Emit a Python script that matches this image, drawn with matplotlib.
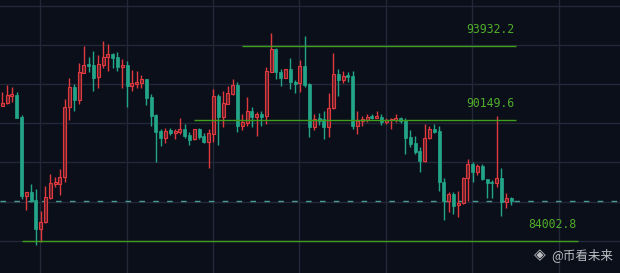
import numpy as np
import matplotlib
matplotlib.use("Agg")
import matplotlib.pyplot as plt

# OHLC (one entry per candle)
opens = [90894, 91017, 91389, 91440, 90303, 86304, 86478, 86085, 84606, 84948,
         86202, 86901, 86901, 87273, 90813, 91863, 91185, 92577, 93021, 92970,
         92343, 92970, 93363, 93531, 93363, 92883, 92970, 91914, 91986, 92067,
         92256, 91353, 90420, 89604, 89262, 89670, 89517, 89568, 89706, 89400,
         89181, 89691, 89349, 89058, 89466, 91389, 90333, 90996, 91491, 91935,
         89874, 90027, 90624, 90333, 90471, 90369, 92628, 93786, 92628, 92322,
         92766, 92118, 92037, 92919, 92001, 89823, 90282, 90201, 89823, 90762,
         92496, 92205, 92460, 92424, 89874, 90129, 90165, 90384, 90282, 90318,
         90048, 90150, 90150, 90252, 90165, 89298, 88977, 88584, 88074, 89232,
         89706, 89604, 87018, 86034, 86391, 85815, 85917, 87192, 87906, 87528,
         87819, 87156, 87018, 86937, 87192, 85968, 86202]
highs = [91593, 91950, 91833, 91578, 90420, 86508, 86886, 86646, 85524, 86814,
         87396, 87243, 87651, 91236, 92292, 91986, 93087, 93939, 93363, 93684,
         93480, 94194, 94041, 93582, 93618, 93276, 93174, 92715, 92679, 92460,
         92270, 91476, 90486, 89706, 89772, 89772, 89706, 90252, 89946, 89568,
         89700, 89742, 89487, 89691, 91746, 91491, 91644, 91899, 92271, 92118,
         90471, 91353, 90828, 90558, 90624, 92883, 94587, 93822, 92766, 92760,
         93312, 92205, 93240, 94464, 92052, 90471, 90507, 90624, 91527, 93567,
         92751, 92679, 92613, 92664, 90639, 90384, 90486, 90456, 90624, 90456,
         90252, 90252, 90456, 90333, 90252, 89640, 89364, 88773, 89976, 89874,
         89961, 89874, 87192, 86478, 86478, 86559, 87273, 88161, 88038, 87906,
         87936, 87160, 87105, 90384, 87732, 86427, 86253]
lows = [90870, 90981, 91098, 90252, 86136, 85575, 85998, 83790, 83958, 84930,
        86136, 86763, 86340, 87018, 90165, 90639, 90966, 92560, 92628, 91659,
        91782, 92802, 92664, 92802, 92664, 91782, 90843, 91644, 91782, 91782,
        90930, 89874, 88008, 88854, 89007, 89400, 89181, 89436, 89232, 88890,
        89170, 89181, 89007, 87702, 89058, 88890, 89823, 90980, 91440, 89568,
        89640, 89859, 89793, 89364, 89874, 89961, 92610, 92241, 91914, 92310,
        91746, 91527, 91608, 91833, 89313, 89655, 89910, 89196, 89313, 90740,
        91404, 92037, 92088, 89706, 89436, 89859, 90078, 90216, 90252, 89910,
        89976, 89706, 90048, 90027, 88431, 88788, 88431, 87528, 88008, 89220,
        89487, 86559, 85065, 85488, 85356, 85233, 85881, 86049, 87018, 87360,
        87130, 86172, 86172, 86763, 85269, 85662, 85830]
closes = [91017, 91440, 91491, 90282, 86304, 86478, 86034, 84606, 84948, 86223,
          86937, 87018, 87273, 90813, 91833, 91185, 92598, 92955, 92919, 92322,
          93006, 93363, 93516, 93342, 92883, 92970, 91914, 92037, 92118, 92241,
          91302, 90384, 89568, 89262, 89619, 89517, 89604, 89706, 89364, 89145,
          89691, 89313, 89058, 89487, 91389, 90333, 91017, 91527, 91935, 89874,
          90048, 90624, 90333, 90471, 90333, 92649, 93786, 92628, 92322, 92751,
          92088, 92016, 92919, 91950, 89823, 90201, 90129, 89823, 90762, 92496,
          92205, 92409, 92358, 89874, 90114, 90201, 90318, 90267, 90369, 90048,
          90150, 90216, 90252, 90129, 89262, 88941, 88548, 88074, 89232, 89691,
          89568, 86988, 86034, 86376, 85794, 85947, 87192, 87906, 87528, 87819,
          87141, 86967, 86937, 87192, 85968, 86172, 86049]

levels = [93932.2, 90149.6, 84002.8]
level_start = [50, 40, 4]
level_end = [107, 107, 120]

o = np.array(opens); h = np.array(highs); l = np.array(lows); c = np.array(closes)
x = np.arange(len(o))
up = c >= o

bg = "#0b0f1a"
red = "#e0393e"
red_fill = "#66222a"
green = "#22a588"
lvl_col = "#3f9e1c"

fig = plt.figure(figsize=(6.2, 2.73), dpi=100, facecolor=bg)
ax = fig.add_axes([0, 0, 1, 1], facecolor=bg)

# grid
for yv in range(84000, 98000, 2000):
    ax.axhline(yv, color="#232839", lw=1, zorder=0)
for xv in np.arange(7.9, 130, 18):
    ax.axvline(xv, color="#232839", lw=1, zorder=0)

# wicks
ax.vlines(x[up], l[up], h[up], color=red, lw=1, zorder=2)
ax.vlines(x[~up], l[~up], h[~up], color=green, lw=1, zorder=2)

# bodies
body = np.maximum(np.abs(c - o), 30)
ax.bar(x[up], body[up], bottom=o[up], width=0.62, color=red_fill,
       edgecolor=red, linewidth=0.8, zorder=3)
ax.bar(x[~up], body[~up], bottom=c[~up], width=0.62, color=green,
       edgecolor=green, linewidth=0.5, zorder=3)

# current price
ax.axhline(closes[-1], color="#4a9a94", lw=1, ls=(0, (4, 6)), zorder=1)

# key levels
for lv, x0, x1 in zip(levels, level_start, level_end):
    ax.hlines(lv, x0, x1, color=lvl_col, lw=1, zorder=4)
    ax.text(x1 - 0.3, lv + 500, f"{lv:.1f}", color="#4fae2a", fontsize=8.3,
            family="DejaVu Sans Mono", ha="right", va="bottom", zorder=5)

# watermark
ax.text(0.862, 0.066, "\u25c8", transform=ax.transAxes, color="#d0d2d6",
        fontsize=11, ha="left", va="center", family="DejaVu Sans", alpha=0.9)
ax.text(0.889, 0.066, "@币看未来", transform=ax.transAxes, color="#d0d2d6",
        fontsize=9, ha="left", va="center",
        family=["Noto Sans CJK SC", "DejaVu Sans"], alpha=0.9)

ax.set_xlim(-0.48, 128.7)
ax.set_ylim(82362, 96285)
ax.axis("off")

fig.savefig("out.png", dpi=100, facecolor=bg)
